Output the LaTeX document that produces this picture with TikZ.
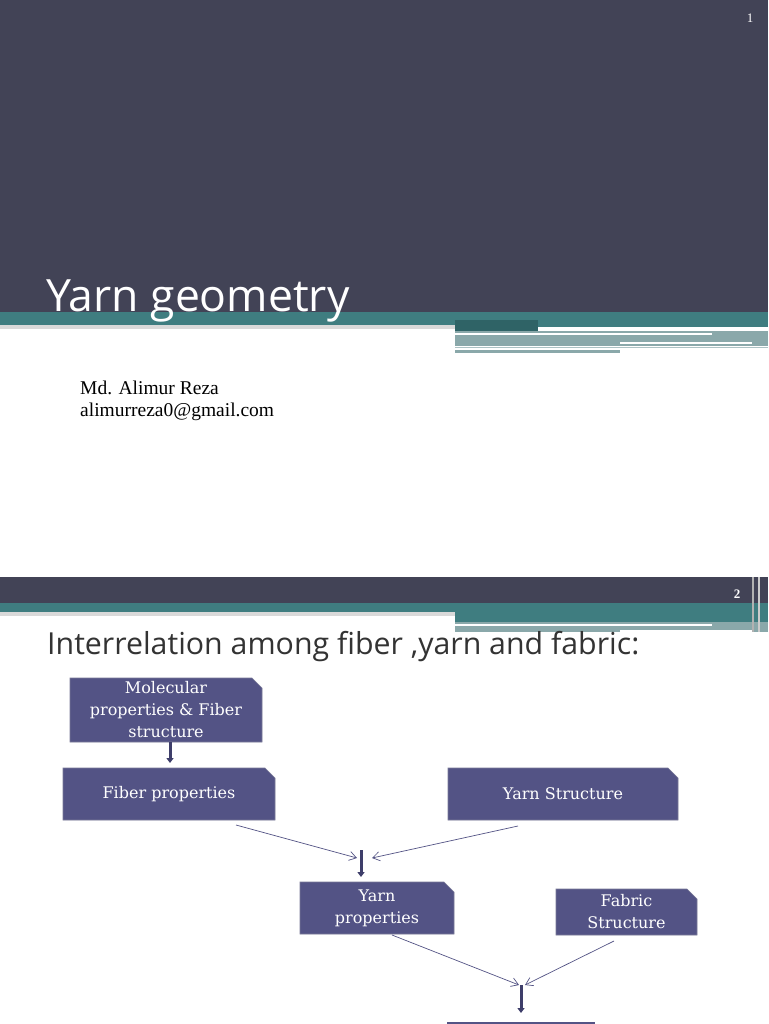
\documentclass[tikz,border=0pt]{standalone}
\usepackage{fontspec}
\setmainfont{Liberation Serif}
\newfontfamily\titlefont{Open Sans}
\newfontfamily\boxfont{DejaVu Serif}
\usetikzlibrary{calc,arrows.meta}
\definecolor{dark}{HTML}{424356}
\definecolor{teal}{HTML}{3F7D80}
\definecolor{dteal}{HTML}{2F6366}
\definecolor{gteal}{HTML}{8AA8AA}
\definecolor{boxc}{HTML}{535385}
\definecolor{boxd}{HTML}{3E3E6A}
\tikzset{
  bx/.style={inner sep=0pt,text=white,font=\boxfont\fontsize{16}{22}\selectfont,align=center},
  thin/.style={draw=boxc,line width=0.7pt,-{Straight Barb[length=7pt,width=9pt]}},
  thick/.style={draw=boxd,line width=3pt,-{Triangle[length=5pt,width=7pt]}}
}
\newcommand{\snipbox}[5]{% name x1 y1 x2 y2
  \fill[boxc,draw=boxd!70,line width=0.6pt] (#2,#3) -- (#4-10,#3) -- (#4,#3+10) -- (#4,#5) -- (#2,#5) -- cycle;
  \coordinate (#1) at ({(#2+#4)/2},{(#3+#5)/2});
}
\begin{document}
\begin{tikzpicture}[x=1pt,y=-1pt]
\useasboundingbox (0,0) rectangle (768,1024);
\fill[white] (0,0) rectangle (768,1024);
% slide 1
\fill[dark] (0,0) rectangle (768,312);
\fill[teal] (0,312) rectangle (768,325);
\fill[black!15] (0,325) rectangle (455,329);
\fill[teal] (538,312) rectangle (768,327);
\fill[dteal] (455,320) rectangle (538,331);
\fill[gteal] (455,331) rectangle (768,346);
\fill[white] (455,333) rectangle (712,335);
\fill[white] (620,342) rectangle (752,344);
\fill[gteal!70] (455,347) rectangle (768,348);
\fill[gteal] (455,350) rectangle (620,353);
\node[anchor=base west,text=white,font=\titlefont\fontsize{44.5}{48}\selectfont,inner sep=0pt] (t1) at (46,311) {Yarn geometry};
\node[text=white,font=\fontsize{13}{15}\selectfont] (p1) at (750,18) {1};
\node[anchor=base west,inner sep=0pt,font=\fontsize{19.5}{22}\selectfont,align=left] (au) at (80,394) {Md. Alimur Reza};
\node[anchor=base west,inner sep=0pt,font=\fontsize{19.5}{22}\selectfont,align=left] (em) at (80,416) {alimurreza0@gmail.com};
% slide 2
\fill[dark] (0,577) rectangle (768,603);
\fill[teal] (0,603) rectangle (768,612);
\fill[black!15] (0,612) rectangle (455,616);
\fill[teal] (455,612) rectangle (768,622);
\fill[gteal] (455,622) rectangle (768,632);
\fill[white] (455,624) rectangle (712,626);
\fill[white] (620,630) rectangle (752,632);
\fill[gray!60] (752,577) rectangle (754,632);
\fill[gray!40] (758,577) rectangle (760,632);
\node[text=white,font=\fontsize{13}{15}\selectfont\bfseries] (p2) at (737,594) {2};
\node[anchor=base west,inner sep=0pt,text=black!80,font=\titlefont\fontsize{30.3}{34}\selectfont] (t2) at (47,654) {Interrelation among fiber ,yarn and fabric:};
% boxes
\snipbox{b1}{70}{678}{262}{742}
\node[bx] (l1) at (b1) {Molecular\\properties \& Fiber\\structure};
\snipbox{b2}{63}{768}{275}{820}
\node[bx] (l2) at (b2) {Fiber properties};
\snipbox{b3}{448}{768}{678}{820}
\node[bx] (l3) at (b3) {Yarn Structure};
\snipbox{b4}{300}{882}{454}{934}
\node[bx] (l4) at (b4) {Yarn\\properties};
\snipbox{b5}{556}{889}{697}{935}
\node[bx] (l5) at (b5) {Fabric\\Structure};
\fill[boxc] (447,1022) rectangle (595,1026);
% arrows
\coordinate (a1s) at (170,742); \coordinate (a1e) at (170,763);
\draw[thick] (a1s) -- (a1e);
\coordinate (a2s) at (361,850); \coordinate (a2e) at (361,877);
\draw[thick] (a2s) -- (a2e);
\coordinate (a3s) at (521,985); \coordinate (a3e) at (521,1013);
\draw[thick] (a3s) -- (a3e);
\coordinate (f1) at (236,825); \coordinate (f2) at (518,826);
\coordinate (f3) at (392,935); \coordinate (f4) at (614,941);
\draw[thin] (f1) -- (357,858);
\draw[thin] (f2) -- (372,858);
\draw[thin] (f3) -- (519,985);
\draw[thin] (f4) -- (525,985);
\end{tikzpicture}
\end{document}
